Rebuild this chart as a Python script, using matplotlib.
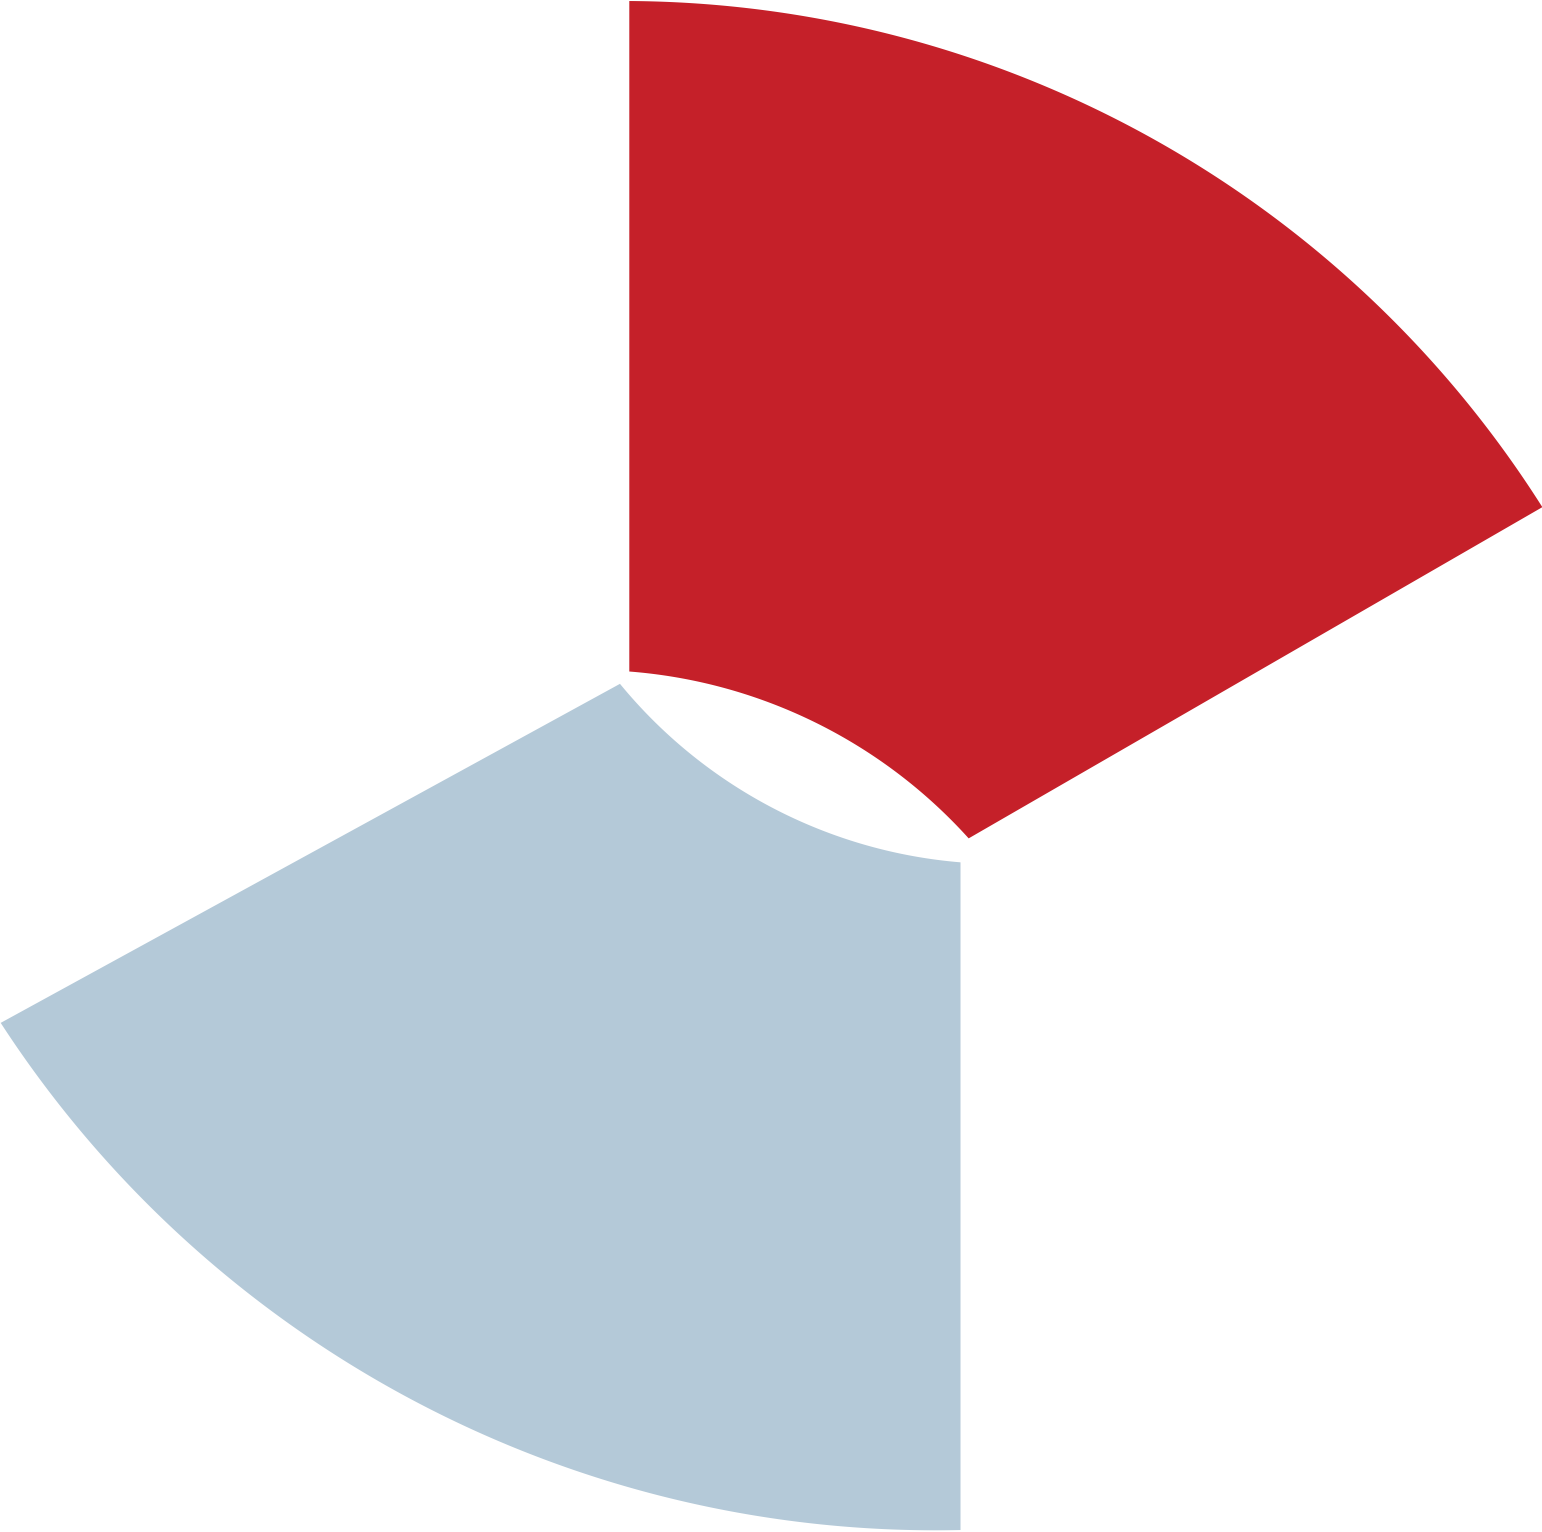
import numpy as np
import matplotlib
matplotlib.use("Agg")
import matplotlib.pyplot as plt

# two slices, angles in degrees (counter-clockwise from 3 o'clock)
names = ["red", "blue"]
start_angle = [30.0, 208.7]
end_angle = [90.0, 270.0]
colors = ["#C52029", "#B4C9D8"]

# geometry in pixels (y grows downward)
apex = [(629.3, 1034.3), (960.5, 497.4)]
outer_c = [(623.0, 1089.0), (935.5, 415.5)]
outer_r = [1088.0, 1114.8]
inner_c = [(590.0, 1180.0), (1001.0, 371.0)]
inner_r = [510.0, 493.0]


def ray_hit(p, u, c, r):
    # distance along ray p + t*u to circle (c, r), far root
    d = np.array(p) - np.array(c)
    b = u @ d
    return -b + np.sqrt(b * b - (d @ d - r * r))


fig = plt.figure(figsize=(15.42, 15.32), dpi=100)
ax = fig.add_axes([0, 0, 1, 1])

for i in range(len(names)):
    th = np.radians(np.linspace(start_angle[i], end_angle[i], 400))
    outer_pts = []
    inner_pts = []
    for t in th:
        u = np.array([np.cos(t), -np.sin(t)])
        p = np.array(apex[i])
        outer_pts.append(p + ray_hit(p, u, outer_c[i], outer_r[i]) * u)
        inner_pts.append(p + ray_hit(p, u, inner_c[i], inner_r[i]) * u)
    pts = np.array(outer_pts + inner_pts[::-1])
    ax.fill(pts[:, 0], pts[:, 1], color=colors[i], linewidth=0)

ax.set_xlim(0, 1542)
ax.set_ylim(1532, 0)
ax.axis("off")

plt.savefig("out.png", dpi=100)
